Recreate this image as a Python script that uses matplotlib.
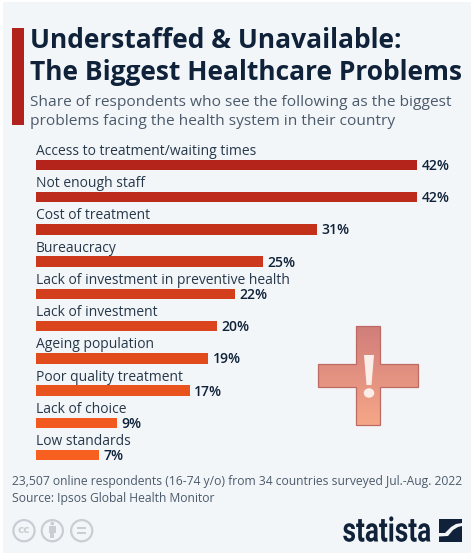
import numpy as np
import matplotlib
matplotlib.use("Agg")
import matplotlib.pyplot as plt
from matplotlib.patches import Rectangle, Polygon, Circle, Ellipse
from matplotlib.colors import LinearSegmentedColormap, to_rgb
from matplotlib.patheffects import AbstractPathEffect
from matplotlib.transforms import Affine2D

categories = ["Access to treatment/waiting times", "Not enough staff", "Cost of treatment",
              "Bureaucracy", "Lack of investment in preventive health", "Lack of investment",
              "Ageing population", "Poor quality treatment", "Lack of choice", "Low standards"]
values = [42, 42, 31, 25, 22, 20, 19, 17, 9, 7]
title_lines = ["Understaffed & Unavailable:", "The Biggest Healthcare Problems"]
subtitle_lines = ["Share of respondents who see the following as the biggest",
                  "problems facing the health system in their country"]
note_lines = ["23,507 online respondents (16-74 y/o) from 34 countries surveyed Jul.-Aug. 2022",
              "Source: Ipsos Global Health Monitor"]

W, H = 474, 556
FONT = "Open Sans"
NAVY = "#0f2239"
BG = "#f3f6f9"
fig = plt.figure(figsize=(W / 100, H / 100), dpi=100, facecolor="white")


class SqueezeX(AbstractPathEffect):
    """Condense a real text object horizontally about a display x."""
    def __init__(self, sx, x0):
        super().__init__()
        self.sx, self.x0 = sx, x0

    def draw_path(self, renderer, gc, tpath, affine, rgbFace=None):
        t = affine + Affine2D().translate(-self.x0, 0).scale(self.sx, 1).translate(self.x0, 0)
        renderer.draw_path(gc, tpath, t, rgbFace)


# pixel-space layer for decoration
bg = fig.add_axes([0, 0, 1, 1])
bg.set_xlim(0, W); bg.set_ylim(H, 0); bg.axis("off")
bg.add_patch(Rectangle((3, 2), 468, 551, fc=BG, ec="none"))
bg.add_patch(Rectangle((12.5, 28), 11.5, 97, fc="#b0221b", ec="none"))

bg.text(30.5, 48, title_lines[0], fontfamily=FONT, fontweight="bold", fontsize=19.0, color=NAVY, va="baseline")
bg.text(30.5, 79.5, title_lines[1], fontfamily=FONT, fontweight="bold", fontsize=19.0, color=NAVY, va="baseline")
bg.text(30.5, 105.5, subtitle_lines[0], fontfamily=FONT, fontsize=11.15, color="#4b5a6b", va="baseline")
bg.text(30.5, 125, subtitle_lines[1], fontfamily=FONT, fontsize=11.15, color="#4b5a6b", va="baseline")
bg.text(12.5, 485, note_lines[0], fontfamily=FONT, fontsize=8.7, color="#4b5a6b", va="baseline")
bg.text(12.5, 501.7, note_lines[1], fontfamily=FONT, fontsize=8.7, color="#4b5a6b", va="baseline")

# cross with vertical gradient
cmap_cross = LinearSegmentedColormap.from_list("cross", ["#d07e7a", "#e39181", "#f5a788"])
cross_xy = [(356.5, 325.5), (380, 325.5), (380, 363.5), (418.5, 363.5), (418.5, 387), (380, 387),
            (380, 425), (356.5, 425), (356.5, 387), (318.5, 387), (318.5, 363.5), (356.5, 363.5)]
im = bg.imshow(np.linspace(0, 1, 100).reshape(-1, 1), cmap=cmap_cross, aspect="auto",
               extent=(318, 419, 425, 325), zorder=2)
clip = Polygon(cross_xy, closed=True, transform=bg.transData, fc="none", ec="none")
bg.add_patch(clip)
im.set_clip_path(clip)
bg.add_patch(Polygon(cross_xy, closed=True, fc="none", ec="#bd6a63", lw=0.9, zorder=3))
bg.add_patch(Polygon([(364, 355), (374, 355), (371.5, 385), (366.5, 385)], closed=True, fc="#fbeee9", ec="none", zorder=4))
bg.add_patch(Ellipse((369, 393), 10.5, 9.5, fc="#fbeee9", ec="none", zorder=4))
bg.set_xlim(0, W); bg.set_ylim(H, 0)

# CC icons
ICON = "#c9ced4"
for cx in (24, 52.3, 81.7):
    bg.add_patch(Circle((cx, 530.7), 10.6, fc="none", ec=ICON, lw=1.6))
bg.text(24, 530.3, "cc", fontfamily="DejaVu Sans", fontweight="bold", fontsize=7.6, color=ICON, ha="center", va="center")
bg.add_patch(Circle((52.3, 523.5), 1.9, fc=ICON, ec="none"))
bg.add_patch(Rectangle((49, 526), 6.6, 6.5, fc=ICON, ec="none"))
bg.add_patch(Rectangle((50.3, 532), 4, 6, fc=ICON, ec="none"))
bg.add_patch(Rectangle((77.2, 527), 9, 2, fc=ICON, ec="none"))
bg.add_patch(Rectangle((77.2, 532), 9, 2, fc=ICON, ec="none"))

# Statista logo: real text, condensed to the logo's width
logo = bg.text(342.5, 541.5, "statista", fontfamily="Roboto", fontweight="bold", fontsize=24.5,
               color=NAVY, va="baseline")
rend = fig.canvas.get_renderer()
logo_w = logo.get_window_extent(rend).width
logo.set_path_effects([SqueezeX(88.5 / logo_w, 342.5)])
bg.add_patch(Rectangle((439, 519), 23, 22.5, fc=NAVY, ec="none"))
bg.add_patch(Polygon([(439, 533), (445, 533), (451, 527), (456, 524), (462, 523),
                      (462, 526), (458, 527), (453, 530), (448, 536), (439, 536.5)],
                     closed=True, fc=BG, ec="none"))

# bars
n = len(values)
first, step = 165.0, (455.0 - 165.0) / (n - 1)
top_px, bot_px = first - step / 2, 455.0 + step / 2
x0_px, x1_px = 35.5, 417.0
ax = fig.add_axes([x0_px / W, 1 - bot_px / H, (x1_px - x0_px) / W, (bot_px - top_px) / H])
ax.patch.set_alpha(0)
ax.set_xlim(0, 42)
ax.set_ylim(n - 0.5, -0.5)
ax.axis("off")
c0, c1 = np.array(to_rgb("#b5241a")), np.array(to_rgb("#f8601f"))
ypos = np.arange(n)
colors = [tuple(c0 + (c1 - c0) * i / (n - 1)) for i in ypos]
ax.barh(ypos, values, height=0.325, color=colors, edgecolor="none")
for i, (c, v) in enumerate(zip(categories, values)):
    ax.annotate(c, (0, i), xytext=(0, 7.2), textcoords="offset points", fontfamily=FONT, fontsize=10.0,
                color="#27384a", va="baseline", ha="left", annotation_clip=False)
    ax.annotate(f"{v}%", (v, i), xytext=(3.2, -3.6), textcoords="offset points", fontfamily=FONT, fontsize=10.0,
                fontweight="semibold", color=NAVY, va="baseline", ha="left", annotation_clip=False)

fig.savefig("out.png", dpi=100, facecolor="white")
